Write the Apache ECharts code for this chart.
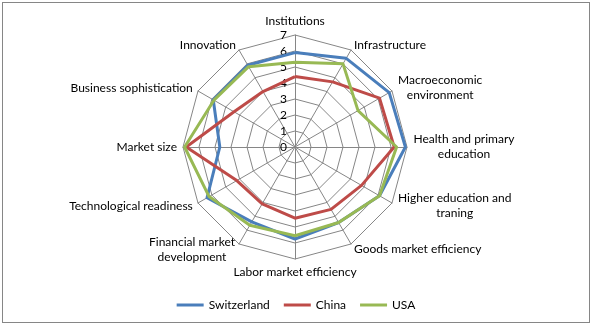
<!DOCTYPE html>
<html>
<head>
<meta charset="utf-8">
<script src="https://cdn.jsdelivr.net/npm/echarts@6/dist/echarts.min.js"></script>
<style>
html,body{margin:0;padding:0;background:#fff;}
#wrap{position:absolute;left:0;top:0;width:592px;height:326px;background:#fff;}
#frame{position:absolute;left:2px;top:2px;width:586px;height:319px;border:1px solid #868686;}
#chart{position:absolute;left:0;top:0;width:592px;height:326px;}
</style>
</head>
<body>
<div id="wrap"><div id="frame"></div><div id="chart"></div></div>
<script>
// Categories (clockwise from top, as in the reference)
const categories = ['Institutions','Infrastructure','Macroeconomic\nenvironment','Health and primary\neducation','Higher education and\ntraning','Goods market efficiency','Labor market efficiency','Financial market\ndevelopment','Technological readiness','Market size','Business sophistication','Innovation'];
const seriesNames = ['Switzerland','China','USA'];
const switzerland = [5.9, 6.4, 6.8, 6.9, 6.1, 5.45, 5.75, 5.4, 6.35, 4.7, 5.9, 5.9];
const china       = [4.4, 4.7, 6.1, 6.2, 4.8, 4.5, 4.45, 4.1, 4.2, 6.8, 4.4, 4.0];
const usa         = [5.3, 6.0, 4.55, 6.35, 6.1, 5.45, 5.55, 5.65, 6.2, 6.9, 5.85, 5.8];
const scaleMin = 0;
const scaleMax = 7;
const scaleSteps = 7;

const colors = ['#4A7EBB', '#BE4B48', '#98B954'];
const FONT = 'Lato, "Open Sans", sans-serif';
const FS = 12;

// ECharts places radar indicators counter-clockwise; reorder so the chart reads clockwise
const order = [0];
for (let i = categories.length - 1; i >= 1; i--) order.push(i);

const ctx = document.createElement('canvas').getContext('2d');
ctx.font = FS + 'px ' + FONT;
const rich = {};
const keyOf = {};
categories.forEach((c, i) => {
  if (c.indexOf('\n') >= 0) {
    const w = Math.max.apply(null, c.split('\n').map(l => ctx.measureText(l).width));
    rich['c' + i] = { width: Math.ceil(w) + 1, align: 'center', fontSize: FS, fontFamily: FONT, color: '#000', lineHeight: 15 };
    keyOf[c] = 'c' + i;
  }
});

const indicator = order.map((idx, k) => {
  const o = { name: categories[idx], min: scaleMin, max: scaleMax };
  if (k === 0) o.axisLabel = { show: true };
  return o;
});
const pick = arr => order.map(i => arr[i]);
const allData = [switzerland, china, usa];

const chart = echarts.init(document.getElementById('chart'), null, { renderer: 'canvas' });
chart.setOption({
  animation: false,
  backgroundColor: 'transparent',
  color: colors,
  textStyle: { fontFamily: FONT },
  legend: {
    data: seriesNames,
    left: 'center',
    top: 294,
    icon: 'rect',
    itemWidth: 27,
    itemHeight: 3,
    itemGap: 14,
    textStyle: { fontSize: FS, fontFamily: FONT, color: '#000' }
  },
  radar: {
    center: [295, 147],
    radius: 112,
    startAngle: 90,
    shape: 'polygon',
    splitNumber: scaleSteps,
    nameGap: 6,
    axisName: {
      color: '#000',
      fontSize: FS,
      fontFamily: FONT,
      lineHeight: 15,
      formatter: function (name) {
        const k = keyOf[name];
        if (!k) return name;
        return name.split('\n').map(l => '{' + k + '|' + l + '}').join('\n');
      },
      rich: rich
    },
    axisLine: { lineStyle: { color: '#868686', width: 1 } },
    splitLine: { lineStyle: { color: '#868686', width: 1 } },
    splitArea: { show: false },
    axisTick: { show: false },
    axisLabel: { show: false, color: '#000', fontSize: FS, fontFamily: FONT, margin: 8 },
    indicator: indicator
  },
  series: seriesNames.map((n, s) => ({
    type: 'radar',
    name: n,
    symbol: 'none',
    z: 2 + s,
    lineStyle: { width: 3, color: colors[s] },
    itemStyle: { color: colors[s] },
    data: [{ name: n, value: pick(allData[s]) }]
  }))
});
</script>
</body>
</html>
